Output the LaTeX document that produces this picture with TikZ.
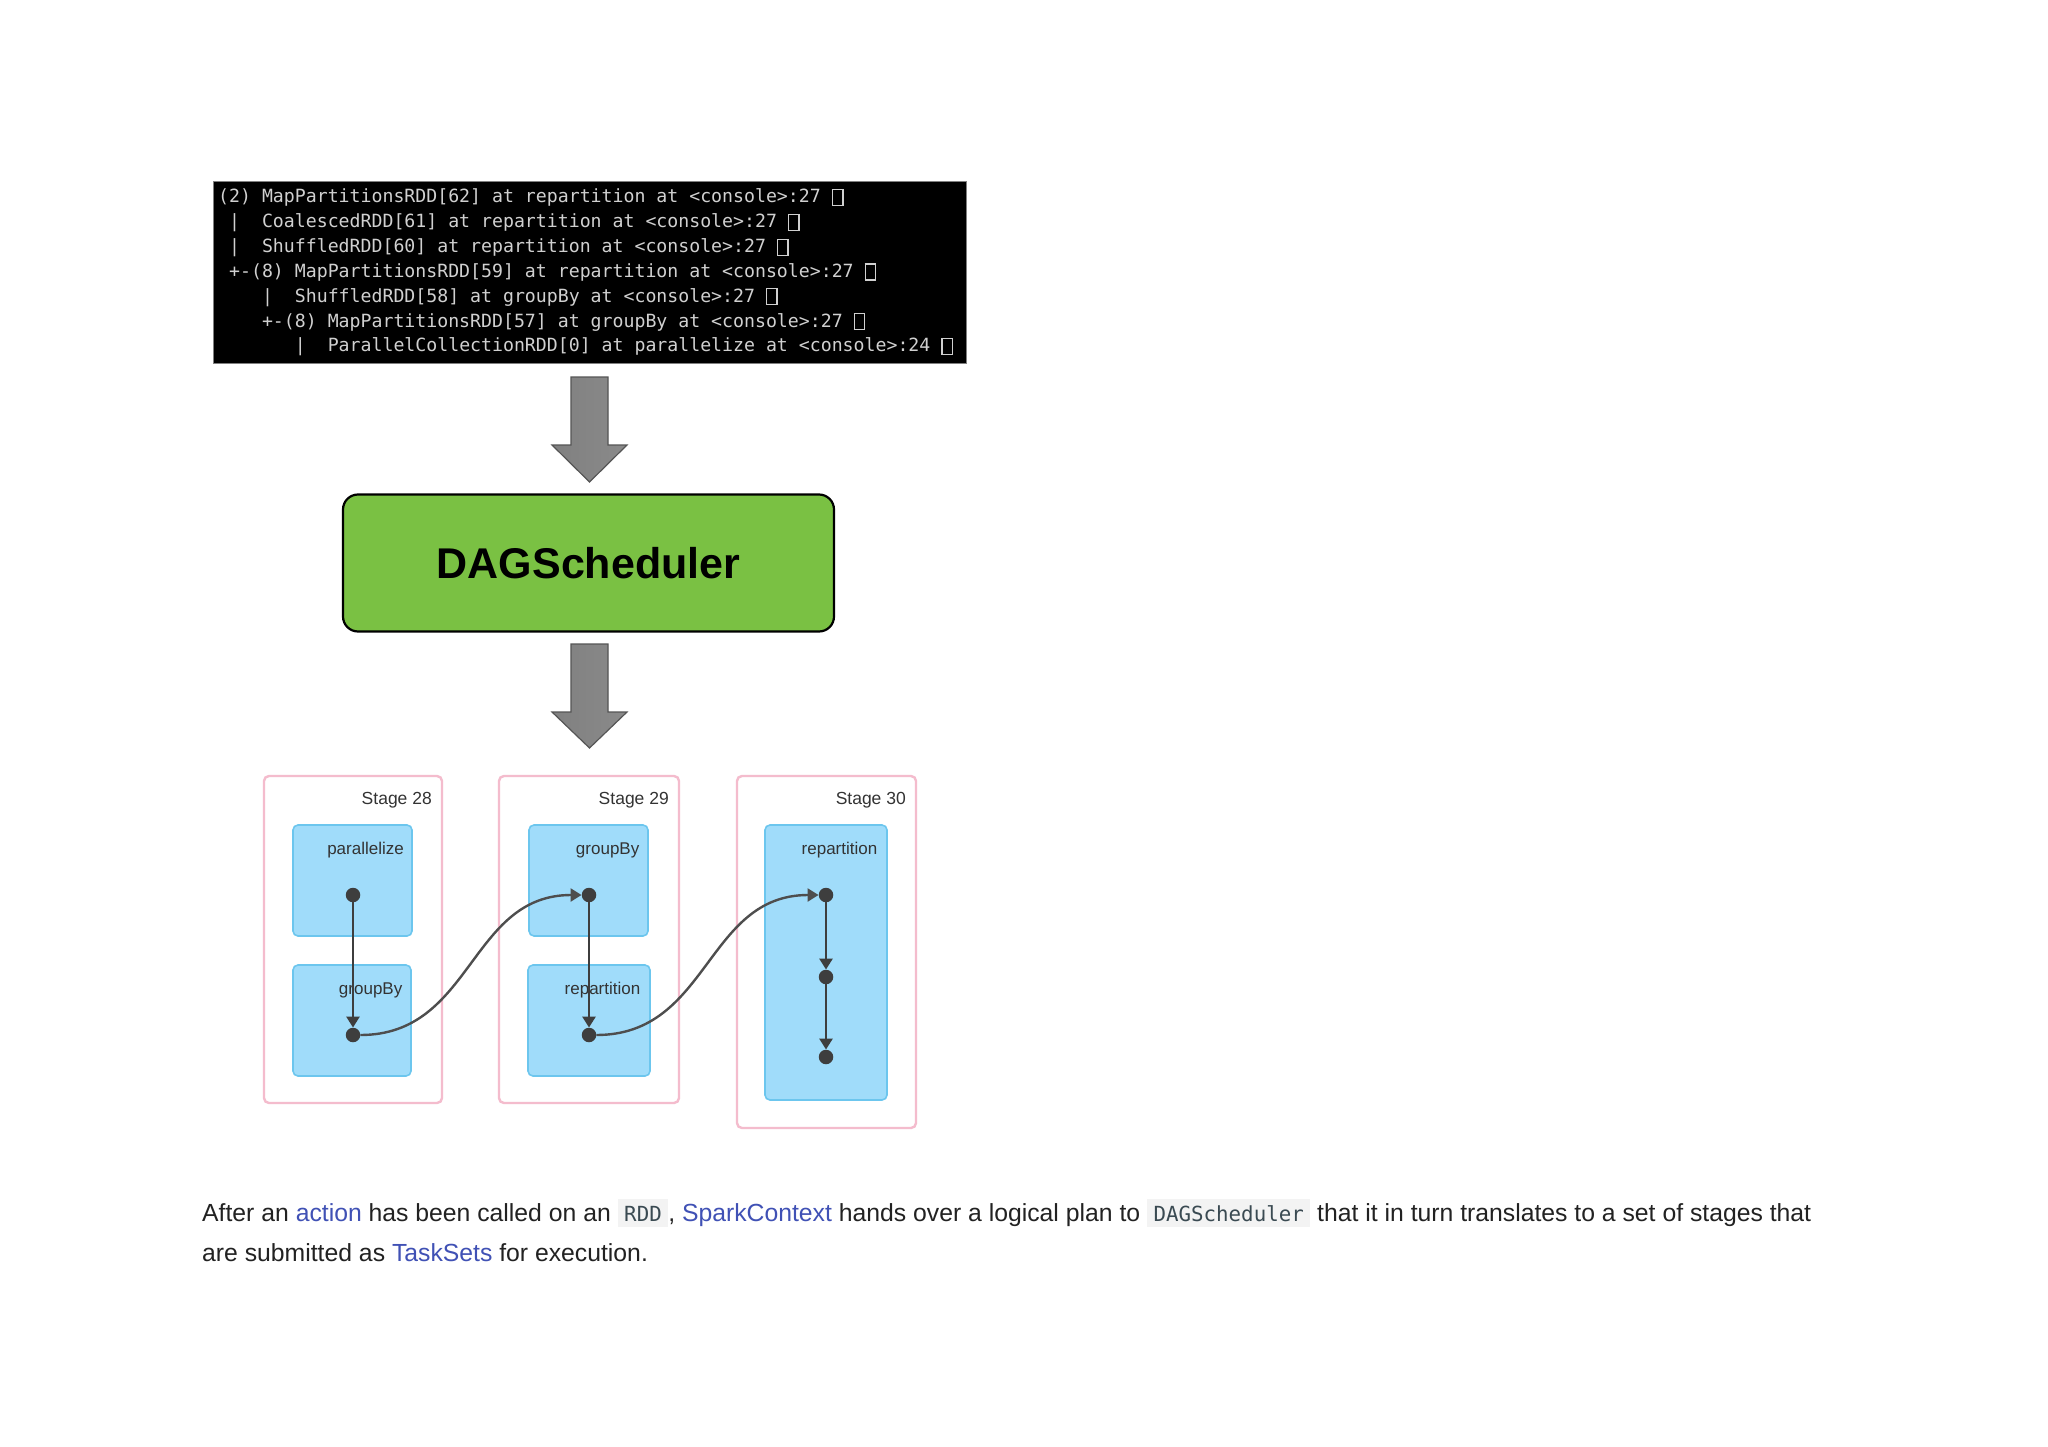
\documentclass[tikz,border=0pt]{standalone}
\usepackage{fontspec}
\setmainfont{Liberation Sans}
\setmonofont{DejaVu Sans Mono}
\usetikzlibrary{arrows.meta}
\definecolor{stagepink}{HTML}{F4BCCD}
\definecolor{taskblue}{HTML}{A0DCFA}
\definecolor{taskedge}{HTML}{6CC6EE}
\definecolor{dagreen}{HTML}{7AC143}
\definecolor{dotgray}{HTML}{3E3E3E}
\definecolor{curvegray}{HTML}{4E4E4E}
\definecolor{termtext}{HTML}{D0D0D0}
\definecolor{linkblue}{HTML}{4051B5}
\definecolor{bodytext}{HTML}{222222}
\definecolor{codebg}{HTML}{F3F3F3}
\definecolor{codetext}{HTML}{3A4A52}
\definecolor{lbl}{HTML}{333333}
\definecolor{arrowA}{HTML}{808080}
\definecolor{arrowB}{HTML}{A4A4A4}
\definecolor{arrowC}{HTML}{8A8A8A}
\definecolor{arrowedge}{HTML}{555555}
\newcommand\tofu{\raisebox{-0.1em}{\setlength\fboxsep{0pt}\setlength\fboxrule{1.3pt}\fbox{\rule{0pt}{0.8em}\rule{0.5em}{0pt}}}}
\newcommand\linktxt[1]{\textcolor{linkblue}{#1}}
\newcommand\codetxt[1]{{\setlength\fboxsep{0pt}\colorbox{codebg}{\rule[-6pt]{0pt}{28pt}\hspace{6.5pt}{\ttfamily\fontsize{20.8}{24}\selectfont\color{codetext}#1}\hspace{6.5pt}}}}
\tikzset{
  termline/.style={anchor=base west, inner sep=0pt, text=termtext, font=\ttfamily\fontsize{18.2}{22}\selectfont},
  blockarrow/.style={draw=arrowedge, line width=1.2pt, left color=arrowA, middle color=arrowB, right color=arrowC},
  dagbox/.style={rounded corners=15pt, draw=black, line width=2.2pt, fill=dagreen, minimum width=491pt, minimum height=137pt, inner sep=0pt, font=\bfseries\fontsize{43}{50}\selectfont},
  stagebox/.style={rounded corners=5pt, draw=stagepink, line width=2.4pt, fill=white, inner sep=0pt, outer sep=0pt},
  taskbox/.style={rounded corners=5pt, draw=taskedge, line width=1.6pt, fill=taskblue, inner sep=0pt, outer sep=0pt},
  stagelbl/.style={anchor=base east, inner sep=0pt, text=lbl, font=\fontsize{17.5}{20}\selectfont},
  tasklbl/.style={anchor=base east, inner sep=0pt, text=lbl, font=\fontsize{17}{20}\selectfont},
  dot/.style={circle, fill=dotgray, inner sep=0pt, minimum size=14.5pt},
  edgev/.style={draw=dotgray, line width=2.6pt, -{Triangle[length=11pt,width=13pt]}},
  edgecurve/.style={draw=curvegray, line width=2.4pt, -{Triangle[length=11pt,width=13pt]}},
  bodyline/.style={anchor=base west, inner sep=0pt, text=bodytext, font=\fontsize{24.75}{30}\selectfont},
}
\begin{document}
\begin{tikzpicture}[x=1pt,y=-1pt]
\useasboundingbox[fill=white] (0,0) rectangle (2048,1447);
% terminal output
\node[fill=black, draw=gray, line width=1pt, minimum width=753pt, minimum height=181pt, inner sep=0pt] (term) at (589.5,272.5) {};
\node[termline] (t1) at (218,203) {(2) MapPartitionsRDD[62] at repartition at <console>:27 \tofu};
\node[termline] (t2) at (218,228) {~|~~CoalescedRDD[61] at repartition at <console>:27 \tofu};
\node[termline] (t3) at (218,253) {~|~~ShuffledRDD[60] at repartition at <console>:27 \tofu};
\node[termline] (t4) at (218,277.5) {~+-(8) MapPartitionsRDD[59] at repartition at <console>:27 \tofu};
\node[termline] (t5) at (218,302) {~~~~|~~ShuffledRDD[58] at groupBy at <console>:27 \tofu};
\node[termline] (t6) at (218,327) {~~~~+-(8) MapPartitionsRDD[57] at groupBy at <console>:27 \tofu};
\node[termline] (t7) at (218,352) {~~~~~~~|~~ParallelCollectionRDD[0] at parallelize at <console>:24 \tofu};
% block arrows
\path[blockarrow] (571,377) -- (608,377) -- (608,445) -- (627,445) -- (589.5,482) -- (552,445) -- (571,445) -- cycle;
\node[dagbox] (dag) at (588.5,563) {DAGScheduler};
\path[blockarrow] (571,644) -- (608,644) -- (608,712) -- (627,712) -- (589.5,748) -- (552,712) -- (571,712) -- cycle;
% stages
\node[stagebox, minimum width=178pt, minimum height=327pt] (s28) at (353,939.5) {};
\node[stagebox, minimum width=180pt, minimum height=327pt] (s29) at (589,939.5) {};
\node[stagebox, minimum width=179pt, minimum height=352pt] (s30) at (826.5,952) {};
\node[stagelbl] (l28) at (432,804) {Stage 28};
\node[stagelbl] (l29) at (669,804) {Stage 29};
\node[stagelbl] (l30) at (906,804) {Stage 30};
% task boxes
\node[taskbox, minimum width=119pt, minimum height=111pt] (b28a) at (352.5,880.5) {};
\node[taskbox, minimum width=118pt, minimum height=111pt] (b28b) at (352,1020.5) {};
\node[taskbox, minimum width=119pt, minimum height=111pt] (b29a) at (588.5,880.5) {};
\node[taskbox, minimum width=122pt, minimum height=111pt] (b29b) at (589,1020.5) {};
\node[taskbox, minimum width=122pt, minimum height=275pt] (b30) at (826,962.5) {};
\node[tasklbl] (tl28a) at (404,854) {parallelize};
\node[tasklbl] (tl28b) at (402.5,994) {groupBy};
\node[tasklbl] (tl29a) at (639.5,854) {groupBy};
\node[tasklbl] (tl29b) at (640.5,994) {repartition};
\node[tasklbl] (tl30) at (877.5,854) {repartition};
% dots
\node[dot] (d28a) at (353,895) {};
\node[dot] (d28b) at (353,1035) {};
\node[dot] (d29a) at (589,895) {};
\node[dot] (d29b) at (589,1035) {};
\node[dot] (d30a) at (826,895) {};
\node[dot] (d30b) at (826,977) {};
\node[dot] (d30c) at (826,1057) {};
% edges
\draw[edgev] (d28a) -- (d28b);
\draw[edgev] (d29a) -- (d29b);
\draw[edgev] (d30a) -- (d30b);
\draw[edgev] (d30b) -- (d30c);
\draw[edgecurve] (d28b) to[out=0,in=180,looseness=1.1] (d29a);
\draw[edgecurve] (d29b) to[out=0,in=180,looseness=1.1] (d30a);
% paragraph
\node[bodyline] (p1) at (202,1221) {After an \linktxt{action} has been called on an \codetxt{RDD}, \linktxt{SparkContext} hands over a logical plan to \codetxt{DAGScheduler} that it in turn translates to a set of stages that};
\node[bodyline] (p2) at (202,1261) {are submitted as \linktxt{TaskSets} for execution.};
\end{tikzpicture}
\end{document}
